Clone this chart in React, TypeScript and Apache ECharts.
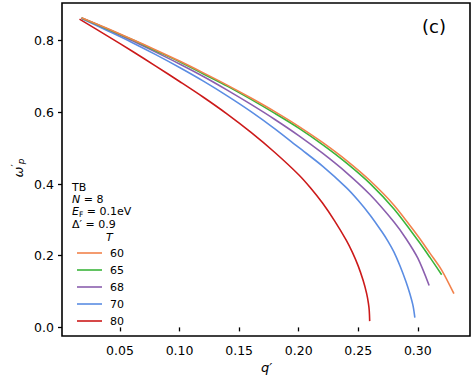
import React, { useEffect, useRef } from "react";
import * as echarts from "echarts";

const temps = ["60", "65", "68", "70", "80"];
const colors = ["#f2824c", "#3bb53b", "#8b5fae", "#5b8de3", "#cc1a1a"];

const t60 = [[0.0177, 0.864], [0.04, 0.833], [0.06, 0.804], [0.08, 0.774], [0.10, 0.743], [0.12, 0.710], [0.14, 0.676], [0.16, 0.640], [0.18, 0.602], [0.20, 0.561], [0.22, 0.516], [0.24, 0.466], [0.26, 0.409], [0.28, 0.341], [0.30, 0.255], [0.31, 0.208], [0.32, 0.160], [0.3303, 0.094]];
const t65 = [[0.0177, 0.863], [0.04, 0.832], [0.06, 0.803], [0.08, 0.772], [0.10, 0.741], [0.12, 0.707], [0.14, 0.673], [0.16, 0.636], [0.18, 0.597], [0.20, 0.556], [0.22, 0.510], [0.24, 0.459], [0.26, 0.401], [0.28, 0.330], [0.30, 0.243], [0.31, 0.196], [0.32, 0.147]];
const t68 = [[0.0177, 0.863], [0.04, 0.831], [0.06, 0.800], [0.08, 0.768], [0.10, 0.735], [0.12, 0.700], [0.14, 0.662], [0.16, 0.622], [0.18, 0.580], [0.20, 0.535], [0.22, 0.486], [0.24, 0.432], [0.26, 0.370], [0.28, 0.294], [0.29, 0.248], [0.30, 0.193], [0.3095, 0.117]];
const t70 = [[0.0177, 0.862], [0.04, 0.827], [0.06, 0.795], [0.08, 0.761], [0.10, 0.725], [0.12, 0.687], [0.14, 0.646], [0.16, 0.602], [0.18, 0.554], [0.20, 0.502], [0.22, 0.450], [0.24, 0.390], [0.25, 0.354], [0.26, 0.313], [0.27, 0.266], [0.275, 0.240], [0.28, 0.210], [0.285, 0.172], [0.29, 0.128], [0.2932, 0.095], [0.296, 0.060], [0.2975, 0.027]];
const t80 = [[0.016, 0.860], [0.04, 0.812], [0.06, 0.771], [0.08, 0.729], [0.10, 0.686], [0.12, 0.642], [0.14, 0.595], [0.16, 0.544], [0.18, 0.488], [0.20, 0.426], [0.21, 0.389], [0.22, 0.347], [0.23, 0.298], [0.24, 0.243], [0.245, 0.210], [0.25, 0.171], [0.254, 0.132], [0.257, 0.095], [0.2585, 0.068], [0.2592, 0.048], [0.2596, 0.0175]];
const seriesData = [t60, t65, t68, t70, t80];

const xTicks = [0.05, 0.10, 0.15, 0.20, 0.25, 0.30];
const yTicks = [0.0, 0.2, 0.4, 0.6, 0.8];

const FONT = "DejaVu Sans";

export default function App() {
  const ref = useRef<HTMLDivElement>(null);
  useEffect(() => {
    if (!ref.current) return;
    const chart = echarts.init(ref.current, null, { renderer: "svg" });
    chart.setOption({
      animation: false,
      backgroundColor: "#ffffff",
      textStyle: { fontFamily: FONT },
      grid: {
        left: 62,
        top: 3,
        right: 4,
        bottom: 43,
        show: true,
        borderColor: "#000",
        borderWidth: 1.6,
        backgroundColor: "transparent",
      },
      xAxis: {
        type: "value",
        min: 0.0013,
        max: 0.3438,
        splitLine: { show: false },
        axisLine: { show: false },
        axisTick: {
          show: true,
          inside: false,
          length: 4,
          lineStyle: { color: "#000", width: 1.3 },
          customValues: xTicks,
        },
        axisLabel: {
          show: true,
          margin: 8,
          color: "#000",
          fontSize: 12.5,
          fontFamily: FONT,
          customValues: xTicks,
          formatter: (v: number) => v.toFixed(2),
        },
      },
      yAxis: {
        type: "value",
        min: -0.024,
        max: 0.905,
        splitLine: { show: false },
        axisLine: { show: false },
        axisTick: {
          show: true,
          inside: false,
          length: 4,
          lineStyle: { color: "#000", width: 1.3 },
          customValues: yTicks,
        },
        axisLabel: {
          show: true,
          margin: 8,
          color: "#000",
          fontSize: 12.5,
          fontFamily: FONT,
          customValues: yTicks,
          formatter: (v: number) => v.toFixed(1),
        },
      },
      legend: {
        show: true,
        orient: "vertical",
        left: 72,
        top: 241,
        icon: "rect",
        itemWidth: 25,
        itemHeight: 1.6,
        itemGap: 3,
        textStyle: {
          fontFamily: FONT,
          fontSize: 11,
          color: "#000",
          lineHeight: 14,
          padding: [0, 0, 0, 3],
        },
        data: temps.map((t) => ({ name: t })),
      },
      series: seriesData.map((d, i) => ({
        name: temps[i],
        type: "line",
        data: d,
        showSymbol: false,
        smooth: 0.3,
        color: colors[i],
        lineStyle: { color: colors[i], width: 1.6 },
        z: 10 - i,
      })),
      graphic: [
        {
          type: "text",
          left: 422,
          top: 17,
          style: { text: "(c)", fontFamily: FONT, fontSize: 18, fill: "#000" },
        },
        {
          type: "text",
          left: 72,
          top: 181,
          style: {
            text: "TB\n{i|N} = 8\n{i|E}{s|F} = 0.1eV\nΔ′ = 0.9",
            fontFamily: FONT,
            fontSize: 11,
            lineHeight: 12.3,
            fill: "#000",
            rich: {
              i: { fontStyle: "italic", fontFamily: FONT, fontSize: 11, fill: "#000" },
              s: { fontFamily: FONT, fontSize: 7.5, fill: "#000", padding: [5, 0, 0, 0] },
            },
          },
        },
        {
          type: "text",
          left: 106,
          top: 232,
          style: { text: "T", fontFamily: FONT, fontStyle: "italic", fontSize: 11, fill: "#000" },
        },
        {
          type: "text",
          left: 261,
          top: 361,
          style: { text: "q′", fontFamily: FONT, fontStyle: "italic", fontSize: 13, fill: "#000" },
        },
        {
          type: "text",
          x: 18,
          y: 168,
          rotation: Math.PI / 2,
          style: {
            text: "{i|ω}{p|′}{s|p}",
            fontFamily: FONT,
            fontSize: 13,
            fill: "#000",
            align: "center",
            verticalAlign: "middle",
            rich: {
              i: { fontStyle: "italic", fontFamily: FONT, fontSize: 13, fill: "#000" },
              p: { fontFamily: FONT, fontSize: 10, fill: "#000", padding: [0, 0, 6, 0] },
              s: { fontStyle: "italic", fontFamily: FONT, fontSize: 9, fill: "#000", padding: [6, 0, 0, 0] },
            },
          },
        },
      ],
    });
    return () => chart.dispose();
  }, []);
  return (
    <div
      ref={ref}
      style={{ position: "fixed", left: 0, top: 0, width: 474, height: 379 }}
    />
  );
}
